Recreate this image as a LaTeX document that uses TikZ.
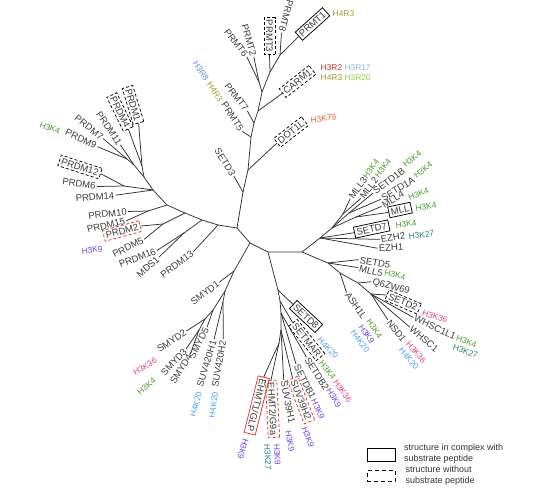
\documentclass[tikz,border=0pt]{standalone}
\usepackage{fontspec}
\setmainfont{Liberation Sans}
\definecolor{genec}{HTML}{3C3C3C}
\definecolor{linec}{HTML}{303030}
\definecolor{mkfour}{HTML}{4A9E2A}
\definecolor{mknine}{HTML}{6A44F0}
\definecolor{mkthirtysix}{HTML}{E8437E}
\definecolor{mktwenty}{HTML}{4DA3F2}
\definecolor{mktwentyseven}{HTML}{2E7E80}
\definecolor{mkseventynine}{HTML}{F0603A}
\definecolor{mkrtwo}{HTML}{C83232}
\definecolor{mkrseventeen}{HTML}{92B8F2}
\definecolor{mkrthree}{HTML}{A09A2E}
\definecolor{mkrtwentysix}{HTML}{98D050}
\definecolor{mkreight}{HTML}{5A8CF0}
\definecolor{boxred}{HTML}{E8301E}
\begin{document}
\begin{tikzpicture}[x=1pt,y=-1pt,
 gene/.style={font=\fontsize{9.5}{10}\selectfont, text=genec, inner sep=1.2pt},
 mk/.style={font=\fontsize{8.4}{9.5}\selectfont, inner sep=0.5pt},
 bx/.style={draw=black, line width=0.75pt, inner sep=2.2pt},
 dbx/.style={bx, dash pattern=on 3pt off 2.2pt},
 rbx/.style={bx, draw=boxred},
 rdbx/.style={dbx, draw=boxred},
 br/.style={draw=linec, line width=0.75pt},
 lgtext/.style={font=\fontsize{9}{11.5}\selectfont, text=black!80, inner sep=0pt},
]
\useasboundingbox (0,0) rectangle (540,495);

% ---------- internal coordinates
\coordinate (A) at (237,228);
\coordinate (B) at (250,243);
\coordinate (C) at (268,252);
\coordinate (D) at (302,252);
\coordinate (T1) at (243,192);
\coordinate (T2) at (248,170);
\coordinate (T3) at (251,137);
\coordinate (T4b) at (254,123);
\coordinate (T4) at (258,111);
\coordinate (T5) at (262,92);
\coordinate (T6) at (259,82);
\coordinate (T7) at (270,72);
\coordinate (T8) at (280,55);
\coordinate (L1) at (218,225);
\coordinate (L2) at (202,220);
\coordinate (L2a) at (184,233);
\coordinate (L3) at (185,213);
\coordinate (L3a) at (163,224);
\coordinate (L4) at (167,205);
\coordinate (L4a) at (148,211);
\coordinate (L5) at (153,190);
\coordinate (L5a) at (124,186);
\coordinate (L6) at (144,177);
\coordinate (L9) at (142,166);
\coordinate (L7) at (134,165);
\coordinate (L7a) at (127,159);
\coordinate (M1) at (234,271);
\coordinate (M2) at (225,291);
\coordinate (M3) at (213,310);
\coordinate (M4) at (205,319);
\coordinate (M5) at (199,330);
\coordinate (M6) at (223,302);
\coordinate (V1) at (278,290);
\coordinate (V2) at (280,301);
\coordinate (V3) at (281,313);
\coordinate (V4) at (281,330);
\coordinate (V5) at (279,343);
\coordinate (R1) at (320,238);
\coordinate (R2) at (332,228);
\coordinate (R3) at (343,214);
\coordinate (R4) at (349,213);
\coordinate (R5) at (356,217);
\coordinate (R6) at (328,263);
\coordinate (R7) at (340,273);
\coordinate (R8) at (358,283);
\coordinate (R9) at (371,294);

% ---------- PRMT group
\node[gene,rotate=-105] (PRMT8) at (286,16) {PRMT8};
\node[gene,bx,rotate=42] (PRMT1) at (312.5,24) {PRMT1};
\node[mk,text=mkrthree,anchor=west] (mPRMT1) at (332,14) {H4R3};
\node[gene,dbx,rotate=-90] (PRMT3) at (269.5,36) {PRMT3};
\node[gene,rotate=-74] (PRMT2) at (249,40) {PRMT2};
\node[gene,rotate=-52] (PRMT6) at (236,43) {PRMT6};
\node[gene,dbx,rotate=38] (CARM1) at (297.5,81.5) {CARM1};
\node[mk,anchor=west,align=left] (mCARM1) at (320,72.5) {\textcolor{mkrtwo}{H3R2} \textcolor{mkrseventeen}{H3R17}\\\textcolor{mkrthree}{H4R3} \textcolor{mkrtwentysix}{H3R26}};
\node[gene,rotate=-52] (PRMT7) at (236.5,97) {PRMT7};
\node[gene,rotate=-57] (PRMT5) at (232.5,116.5) {PRMT5};
\node[mk,text=mkrthree,rotate=-57] (mPRMT5b) at (215,91.5) {H4R3};
\node[mk,text=mkreight,rotate=-57] (mPRMT5a) at (201,71) {H3R8};
\node[gene,dbx,rotate=38] (DOT1L) at (291,132) {DOT1L};
\node[mk,text=mkseventynine,rotate=8] (mDOT1L) at (323.5,118.5) {H3K79};
\node[gene,rotate=-58] (SETD3) at (225,162) {SETD3};

% ---------- PRDM group
\node[gene,dbx,rotate=-73] (PRDM1) at (133,105) {PRDM1};
\node[gene,dbx,rotate=-64] (PRDM4) at (120,112) {PRDM4};
\node[gene,rotate=-56] (PRDM11) at (109,128) {PRDM11};
\node[gene,rotate=-38] (PRDM7) at (89,127.5) {PRDM7};
\node[gene,rotate=-25] (PRDM9) at (81,139) {PRDM9};
\node[mk,text=mkfour,rotate=-20] (mPRDM9) at (50,128) {H3K4};
\node[gene,dbx,rotate=-18] (PRDM12) at (80,167) {PRDM12};
\node[gene,rotate=-8] (PRDM6) at (79,184) {PRDM6};
\node[gene,rotate=5] (PRDM14) at (95,197) {PRDM14};
\node[gene,rotate=7] (PRDM10) at (107.5,214) {PRDM10};
\node[gene,rotate=13] (PRDM15) at (106,225.5) {PRDM15};
\node[gene,rdbx,rotate=15] (PRDM2) at (122,231) {PRDM2};
\node[mk,text=mknine,rotate=8] (mPRDM2) at (92,250) {H3K9};
\node[gene,rotate=27] (PRDM5) at (128,247.5) {PRDM5};
\node[gene,rotate=21] (PRDM16) at (137.5,258) {PRDM16};
\node[gene,rotate=42] (MDS1) at (148,267) {MDS1};
\node[gene,rotate=37] (PRDM13) at (177,264) {PRDM13};

% ---------- SMYD / SUV420 group
\node[gene,rotate=37] (SMYD1) at (205,293) {SMYD1};
\node[gene,rotate=34] (SMYD2) at (171.7,341) {SMYD2};
\node[mk,text=mkthirtysix,rotate=30] (mSMYD2) at (145,366.5) {H3K36};
\node[gene,rotate=47] (SMYD3) at (174,362) {SMYD3};
\node[mk,text=mkfour,rotate=40] (mSMYD3) at (146.5,386.5) {H3K4};
\node[gene,rotate=58] (SMYD4) at (181,369) {SMYD4};
\node[gene,rotate=63] (SMYD5) at (199,343) {SMYD5};
\node[gene,rotate=73] (SUV420H1) at (206.7,363.4) {SUV420H1};
\node[mk,text=mktwenty,rotate=75] (mSUVa) at (196,404.5) {H4K20};
\node[gene,rotate=80] (SUV420H2) at (219,364) {SUV420H2};
\node[mk,text=mktwenty,rotate=82] (mSUVb) at (213.5,405) {H4K20};

% ---------- SET8 / SUV39 group
\node[gene,bx,rotate=-43] (SETD8) at (306,316.5) {SETD8};
\node[mk,text=mktwenty,rotate=-45] (mSETD8) at (328,348) {H4K20};
\node[gene,dbx,rotate=-51] (SETMAR) at (306.7,340) {SETMAR};
\node[mk,text=mkfour,rotate=-50] (mSETMARa) at (327.5,370) {H3K4};
\node[mk,text=mkthirtysix,rotate=-55] (mSETMARb) at (342.5,391) {H3K36};
\node[gene,rotate=-58] (SETDB2) at (317,374) {SETDB2};
\node[mk,text=mknine,rotate=-60] (mSETDB2) at (334,398) {H3K9};
\node[gene,rotate=-63] (SETDB1) at (305,381.7) {SETDB1};
\node[mk,text=mknine,rotate=-65] (mSETDB1) at (318,409) {H3K9};
\node[gene,rdbx,rotate=-69] (SUV39H2) at (301,400) {SUV39H2};
\node[mk,text=mknine,rotate=-70] (mSUV39H2) at (308,437) {H3K9};
\node[gene,rotate=-79] (SUV39H1) at (288,402) {SUV39H1};
\node[mk,text=mknine,rotate=-80] (mSUV39H1) at (290,441) {H3K9};
\node[gene,rdbx,rotate=-87] (EHMT2) at (272.5,409) {EHMT2/G9a};
\node[mk,rotate=-87,align=left] (mEHMT2) at (272.5,457) {\textcolor{mknine}{H3K9}\\\textcolor{mktwentyseven}{H3K27}};
\node[gene,rbx,rotate=-104] (EHMT1) at (256.7,405.5) {EHMT1/GLP};
\node[mk,text=mknine,rotate=-106] (mEHMT1) at (243,449) {H3K9};

% ---------- MLL / EZH group
\node[gene,rotate=54] (MLL3) at (358,188) {MLL3};
\node[mk,text=mkfour,rotate=54] (mMLL3) at (371,169) {H3K4};
\node[gene,rotate=52] (MLL2) at (369,188) {MLL2};
\node[mk,text=mkfour,rotate=52] (mMLL2) at (383,168) {H3K4};
\node[gene,rotate=37] (SETD1B) at (389,181) {SETD1B};
\node[mk,text=mkfour,rotate=40] (mSETD1B) at (412,159) {H3K4};
\node[gene,rotate=31] (SETD1A) at (398,189) {SETD1A};
\node[mk,text=mkfour,rotate=40] (mSETD1A) at (423,170) {H3K4};
\node[gene,rotate=31] (MLL4) at (393,199.5) {MLL4};
\node[mk,text=mkfour,rotate=20] (mMLL4) at (418.5,194) {H3K4};
\node[gene,bx,rotate=12] (MLL) at (400,210) {MLL};
\node[mk,text=mkfour,rotate=10] (mMLL) at (426,206.5) {H3K4};
\node[gene,bx,rotate=12] (SETD7) at (371.7,229) {SETD7};
\node[mk,text=mkfour,rotate=8] (mSETD7) at (406,224) {H3K4};
\node[gene,rotate=8] (EZH2) at (393,237.5) {EZH2};
\node[mk,text=mktwentyseven,rotate=8] (mEZH2) at (421.5,235) {H3K27};
\node[gene,rotate=3] (EZH1) at (391,247.5) {EZH1};

% ---------- SETD2 / NSD group
\node[gene,rotate=-10] (SETD5) at (375,262.5) {SETD5};
\node[gene,rotate=-15] (MLL5) at (371,271) {MLL5};
\node[mk,text=mkfour,rotate=-12] (mMLL5) at (395,275) {H3K4};
\node[gene,rotate=-15] (Q6ZW69) at (391,287) {Q6ZW69};
\node[gene,dbx,rotate=-23] (SETD2) at (403,302) {SETD2};
\node[mk,text=mkthirtysix,rotate=-17] (mSETD2) at (435,316.5) {H3K36};
\node[gene,rotate=-25] (WHSC1L1) at (435,327.5) {WHSC1L1};
\node[mk,rotate=-20,align=left] (mWHSC1L1) at (467,347) {\textcolor{mkfour}{H3K4}\\\textcolor{mktwentyseven}{H3K27}};
\node[gene,rotate=-40] (WHSC1) at (424,339) {WHSC1};
\node[gene,rotate=-52] (NSD1) at (396.5,331) {NSD1};
\node[mk,rotate=-50,align=left] (mNSD1) at (412.5,355.5) {\textcolor{mkthirtysix}{H3K36}\\\textcolor{mktwenty}{H4K20}};
\node[gene,rotate=-55] (ASH1L) at (356,306) {ASH1L};
\node[mk,rotate=-55,align=left] (mASH1L) at (368,336) {\textcolor{mkfour}{H3K4}\\\textcolor{mknine}{H3K9}\\\textcolor{mktwenty}{H4K20}};

% ---------- branches
\draw[br] (A) -- (B) -- (C) -- (D);
\draw[br] (A) -- (T1) -- (T2) -- (T3) -- (T4b) -- (T4) -- (T5) -- (T7) -- (T8);
\draw[br] (T5) -- (T6);
\draw[br] (T1) -- (SETD3.east);
\draw[br] (T2) -- (DOT1L.west);
\draw[br] (T3) -- (PRMT5.east);
\draw[br] (T4b) -- (PRMT7.east);
\draw[br] (T4) -- (CARM1.west);
\draw[br] (T6) -- (PRMT6.east);
\draw[br] (T6) -- (PRMT2.east);
\draw[br] (T7) -- (PRMT3.east);
\draw[br] (T8) -- (PRMT8.east);
\draw[br] (T8) -- (PRMT1.west);

\draw[br] (A) -- (L1) -- (L2) -- (L3) -- (L4) -- (L5) -- (L6);
\draw[br] (L1) -- (PRDM13.east);
\draw[br] (L2) -- (L2a);
\draw[br] (L2a) -- (PRDM16.east);
\draw[br] (L2a) -- (MDS1.east);
\draw[br] (L3) -- (L3a);
\draw[br] (L3a) -- (PRDM2.east);
\draw[br] (L3a) -- (PRDM5.east);
\draw[br] (L4) -- (L4a);
\draw[br] (L4a) -- (PRDM10.east);
\draw[br] (L4a) -- (PRDM15.east);
\draw[br] (L5) -- (PRDM14.east);
\draw[br] (L5) -- (L5a);
\draw[br] (L5a) -- (PRDM6.east);
\draw[br] (L5a) -- (PRDM12.east);
\draw[br] (L6) -- (L9);
\draw[br] (L9) -- (PRDM4.east);
\draw[br] (L9) -- (PRDM1.east);
\draw[br] (L6) -- (L7);
\draw[br] (L7) -- (PRDM11.east);
\draw[br] (L7) -- (L7a);
\draw[br] (L7a) -- (PRDM7.east);
\draw[br] (L7a) -- (PRDM9.east);

\draw[br] (B) -- (M1) -- (M2) -- (M3) -- (M4) -- (M5);
\draw[br] (M1) -- (SMYD1.east);
\draw[br] (M3) -- (SMYD5.east);
\draw[br] (M4) -- (SMYD2.east);
\draw[br] (M5) -- (SMYD3.east);
\draw[br] (M5) -- (SMYD4.east);
\draw[br] (M2) -- (M6);
\draw[br] (M6) -- (SUV420H1.east);
\draw[br] (M6) -- (SUV420H2.east);

\draw[br] (C) -- (V1) -- (V2) -- (V3) -- (V4) -- (V5);
\draw[br] (V1) -- (SETD8.west);
\draw[br] (V2) -- (SETMAR.west);
\draw[br] (V3) -- (SETDB2.west);
\draw[br] (V3) -- (SETDB1.west);
\draw[br] (V4) -- (SUV39H2.west);
\draw[br] (V4) -- (SUV39H1.west);
\draw[br] (V5) -- (EHMT2.west);
\draw[br] (V5) -- (EHMT1.west);

\draw[br] (D) -- (R1) -- (R2);
\draw[br] (R1) -- (EZH2.west);
\draw[br] (R1) -- (EZH1.west);
\draw[br] (R1) -- (SETD7.west);
\draw[br] (R2) -- (R3);
\draw[br] (R3) -- (MLL3.west);
\draw[br] (R3) -- (MLL2.west);
\draw[br] (R2) -- (R4);
\draw[br] (R4) -- (SETD1B.west);
\draw[br] (R4) -- (SETD1A.west);
\draw[br] (R2) -- (R5);
\draw[br] (R5) -- (MLL4.west);
\draw[br] (R5) -- (MLL.west);

\draw[br] (D) -- (R6) -- (R7) -- (R8) -- (R9);
\draw[br] (R6) -- (SETD5.west);
\draw[br] (R6) -- (MLL5.west);
\draw[br] (R7) -- (ASH1L.west);
\draw[br] (R8) -- (Q6ZW69.west);
\draw[br] (R9) -- (SETD2.west);
\draw[br] (R9) -- (WHSC1L1.west);
\draw[br] (R9) -- (WHSC1.west);
\draw[br] (R9) -- (NSD1.west);

% ---------- legend
\node[draw=black, line width=0.9pt, minimum width=28pt, minimum height=12.5pt, inner sep=0pt] (lg1) at (381,454.7) {};
\node[draw=black, line width=0.9pt, dash pattern=on 4pt off 3pt, minimum width=28pt, minimum height=11.5pt, inner sep=0pt] (lg2) at (381,476) {};
\node[lgtext, anchor=north west, align=left] (lt1) at (404,443.5) {structure in complex with\\substrate peptide};
\node[lgtext, anchor=north west, align=left] (lt2) at (405.5,465.5) {structure without\\substrate peptide};
\end{tikzpicture}
\end{document}
